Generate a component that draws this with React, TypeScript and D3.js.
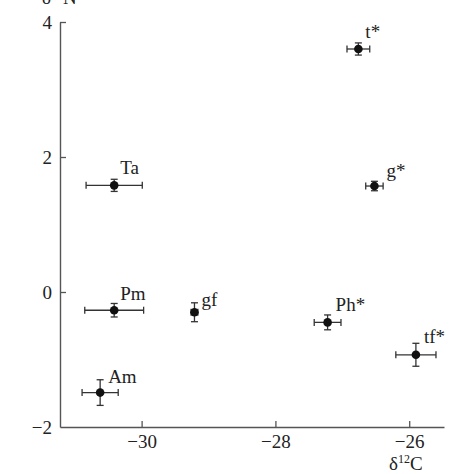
import React, { useEffect, useRef } from "react";
import * as d3 from "d3";

const labels = ["t*", "g*", "Ta", "Pm", "gf", "Ph*", "tf*", "Am"];
const xVals = [-26.76, -26.52, -30.41, -30.41, -29.21, -27.22, -25.9, -30.62];
const yVals = [3.6, 1.57, 1.58, -0.27, -0.3, -0.45, -0.93, -1.49];
const xErr = [0.17, 0.13, 0.42, 0.44, 0.05, 0.2, 0.3, 0.27];
const yErr = [0.09, 0.07, 0.09, 0.1, 0.14, 0.11, 0.17, 0.19];
const labelDx = [7, 12, 6, 6, 7, 8, 8, 8];
const labelDy = [-11, -9, -11, -10, -6, -11, -12, -10];
const xTicks = [-30, -28, -26];
const yTicks = [-2, 0, 2, 4];

const W = 474;
const H = 474;
const FONT = "Liberation Serif";
const FS = 19;

export default function App() {
  const ref = useRef<SVGSVGElement>(null);
  useEffect(() => {
    const svg = d3.select(ref.current);
    svg.selectAll("*").remove();
    const x = d3.scaleLinear().domain([-31.22, -25.48]).range([60, 444]);
    const y = d3.scaleLinear().domain([-2, 4]).range([427, 22]);
    const axisColor = "#555";
    const fmt = d3.format("d");

    const gx = svg
      .append("g")
      .attr("transform", `translate(0,${y(-2)})`)
      .call(
        d3
          .axisBottom(x)
          .tickValues(xTicks)
          .tickFormat((d: any) => fmt(d))
          .tickSizeInner(-6)
          .tickSizeOuter(0)
          .tickPadding(8)
      );
    const gy = svg
      .append("g")
      .attr("transform", `translate(${x(-31.22)},0)`)
      .call(
        d3
          .axisLeft(y)
          .tickValues(yTicks)
          .tickFormat((d: any) => fmt(d))
          .tickSizeInner(-6)
          .tickSizeOuter(0)
          .tickPadding(8)
      );
    [gx, gy].forEach((g) => {
      g.attr("font-family", FONT).attr("font-size", FS);
      g.select(".domain").attr("stroke", axisColor).attr("stroke-width", 1.4);
      g.selectAll(".tick line").attr("stroke", axisColor).attr("stroke-width", 1.3);
      g.selectAll(".tick text").attr("fill", "#222");
    });
    gy.selectAll(".tick").filter((d: any) => d === -2).select("line").remove();

    const idx = d3.range(labels.length);
    const g = svg.append("g");
    const ec = "#333";
    idx.forEach((i) => {
      const cx = x(xVals[i]);
      const cy = y(yVals[i]);
      const x0 = x(xVals[i] - xErr[i]);
      const x1 = x(xVals[i] + xErr[i]);
      const y0 = y(yVals[i] + yErr[i]);
      const y1 = y(yVals[i] - yErr[i]);
      const cap = 3.5;
      const lines: [number, number, number, number][] = [
        [x0, cy, x1, cy],
        [x0, cy - cap, x0, cy + cap],
        [x1, cy - cap, x1, cy + cap],
        [cx, y0, cx, y1],
        [cx - cap, y0, cx + cap, y0],
        [cx - cap, y1, cx + cap, y1],
      ];
      lines.forEach(([a, b, c, d]) =>
        g
          .append("line")
          .attr("x1", a)
          .attr("y1", b)
          .attr("x2", c)
          .attr("y2", d)
          .attr("stroke", ec)
          .attr("stroke-width", 1.3)
      );
    });
    g.selectAll("circle")
      .data(idx)
      .join("circle")
      .attr("cx", (i) => x(xVals[i]))
      .attr("cy", (i) => y(yVals[i]))
      .attr("r", 4.3)
      .attr("fill", "#111");
    g.selectAll("text.lbl")
      .data(idx)
      .join("text")
      .attr("class", "lbl")
      .attr("x", (i) => x(xVals[i]) + labelDx[i])
      .attr("y", (i) => y(yVals[i]) + labelDy[i])
      .attr("fill", "#222")
      .attr("font-family", FONT)
      .attr("font-size", FS)
      .text((i) => labels[i]);

    const xt = svg
      .append("text")
      .attr("x", 389)
      .attr("y", 470)
      .attr("fill", "#222")
      .attr("font-family", FONT)
      .attr("font-size", FS);
    xt.append("tspan").text("δ");
    xt.append("tspan").attr("dy", -7).attr("font-size", 12).text("12");
    xt.append("tspan").attr("dy", 7).text("C");

    const yt = svg
      .append("text")
      .attr("x", 42)
      .attr("y", 4)
      .attr("fill", "#222")
      .attr("font-family", FONT)
      .attr("font-size", FS);
    yt.append("tspan").text("δ");
    yt.append("tspan").attr("dy", -7).attr("font-size", 12).text("15");
    yt.append("tspan").attr("dy", 7).text("N");
  }, []);
  return (
    <svg
      ref={ref}
      width={W}
      height={H}
      style={{ position: "absolute", left: 0, top: 0, background: "#fff" }}
    />
  );
}
